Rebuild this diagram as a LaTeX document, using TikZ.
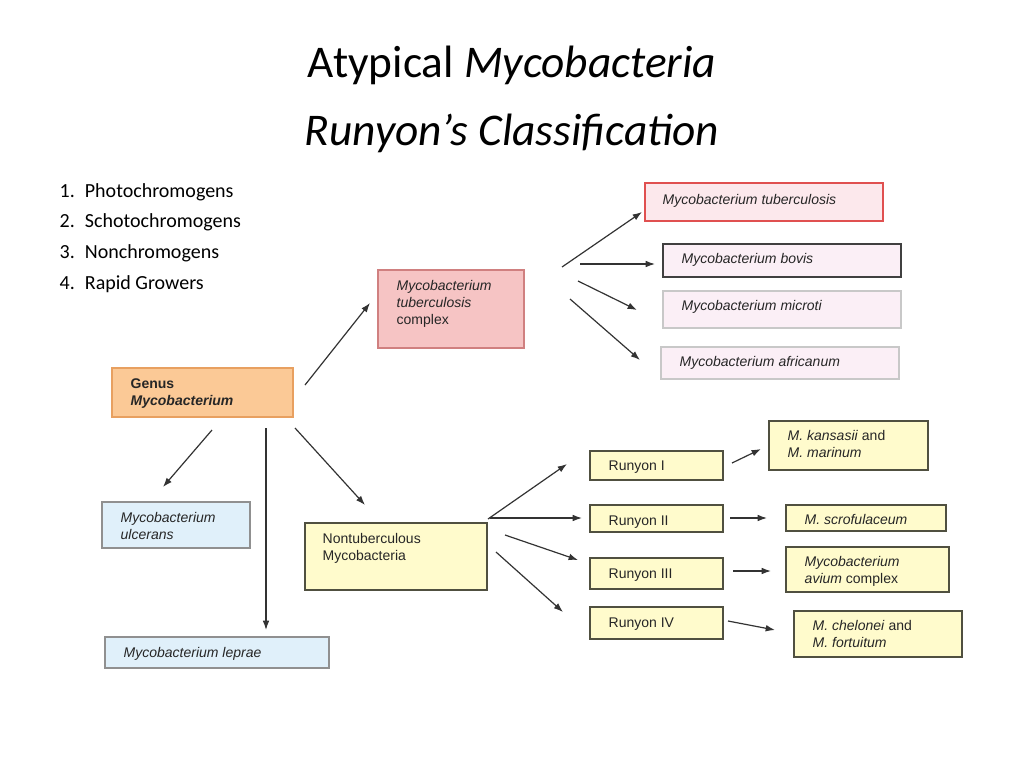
\documentclass[tikz,border=0pt]{standalone}
\usepackage{fontspec}
\setmainfont{Carlito}
\newfontfamily\arl{Liberation Sans}
\usetikzlibrary{arrows.meta}
\definecolor{orgF}{HTML}{FBC996}\definecolor{orgD}{HTML}{E8A060}
\definecolor{pnkF}{HTML}{F6C4C4}\definecolor{pnkD}{HTML}{D08080}
\definecolor{tbF}{HTML}{FCE8EC}\definecolor{tbD}{HTML}{E05050}
\definecolor{ltF}{HTML}{FBEFF6}\definecolor{ltD}{HTML}{C8C8C8}
\definecolor{bluF}{HTML}{E0F0FA}\definecolor{bluD}{HTML}{909090}
\definecolor{yelF}{HTML}{FFFBCC}\definecolor{yelD}{HTML}{505040}
\begin{document}
\begin{tikzpicture}[x=0.75pt,y=-0.75pt,
  box/.style={draw,line width=1pt,inner sep=0pt},
  lbl/.style={anchor=north west,font=\arl\fontsize{10.5}{12.5}\selectfont,align=left,text=black!85},
  arr/.style={-{Latex[length=7pt,width=5pt]},line width=0.9pt,black!80},
  list/.style={anchor=west,font=\fontsize{15}{18}\selectfont}]
\useasboundingbox (0,0) rectangle (1024,768);
\node[font=\fontsize{34}{40}\selectfont] (t1) at (512,65) {Atypical \textit{Mycobacteria}};
\node[font=\fontsize{34}{40}\selectfont] (t2) at (512,133) {\textit{Runyon’s Classification}};
\node[list] (l1) at (55,192) {1.\enspace Photochromogens};
\node[list] (l2) at (55,222) {2.\enspace Schotochromogens};
\node[list] (l3) at (55,253) {3.\enspace Nonchromogens};
\node[list] (l4) at (55,284) {4.\enspace Rapid Growers};
% boxes
\draw[box,fill=orgF,draw=orgD] (112,368) rectangle (293,417);
\node[lbl] (genus) at (126,374) {\textbf{Genus}\\\textbf{\textit{Mycobacterium}}};
\draw[box,fill=pnkF,draw=pnkD] (378,270) rectangle (524,348);
\node[lbl] (mtc) at (392,276) {\textit{Mycobacterium}\\\textit{tuberculosis}\\complex};
\draw[box,fill=tbF,draw=tbD] (645,183) rectangle (883,221);
\node[lbl] (tb) at (658,190) {\textit{Mycobacterium tuberculosis}};
\draw[box,fill=ltF,draw=black!75] (663,244) rectangle (901,277);
\node[lbl] (bov) at (677,249) {\textit{Mycobacterium bovis}};
\draw[box,fill=ltF,draw=ltD] (663,291) rectangle (901,328);
\node[lbl] (mic) at (677,296) {\textit{Mycobacterium microti}};
\draw[box,fill=ltF,draw=ltD] (661,347) rectangle (899,379);
\node[lbl] (afr) at (675,352) {\textit{Mycobacterium africanum}};
\draw[box,fill=bluF,draw=bluD] (102,502) rectangle (250,548);
\node[lbl] (ulc) at (116,508) {\textit{Mycobacterium}\\\textit{ulcerans}};
\draw[box,fill=bluF,draw=bluD] (105,637) rectangle (329,668);
\node[lbl] (lep) at (119,643) {\textit{Mycobacterium leprae}};
\draw[box,fill=yelF,draw=yelD] (305,523) rectangle (487,590);
\node[lbl] (ntm) at (318,529) {Nontuberculous\\Mycobacteria};
\draw[box,fill=yelF,draw=yelD] (590,451) rectangle (723,480);
\node[lbl] (r1) at (604,456) {Runyon I};
\draw[box,fill=yelF,draw=yelD] (590,505) rectangle (723,532);
\node[lbl] (r2) at (604,511) {Runyon II};
\draw[box,fill=yelF,draw=yelD] (590,558) rectangle (723,589);
\node[lbl] (r3) at (604,564) {Runyon III};
\draw[box,fill=yelF,draw=yelD] (590,607) rectangle (723,639);
\node[lbl] (r4) at (604,613) {Runyon IV};
\draw[box,fill=yelF,draw=yelD] (769,421) rectangle (928,470);
\node[lbl] (kan) at (783,426) {\textit{M. kansasii} and\\\textit{M. marinum}};
\draw[box,fill=yelF,draw=yelD] (786,505) rectangle (946,531);
\node[lbl] (scr) at (800,510) {\textit{M. scrofulaceum}};
\draw[box,fill=yelF,draw=yelD] (786,547) rectangle (949,592);
\node[lbl] (avi) at (800,552) {\textit{Mycobacterium}\\\textit{avium} complex};
\draw[box,fill=yelF,draw=yelD] (794,611) rectangle (962,657);
\node[lbl] (che) at (808,616) {\textit{M. chelonei} and\\\textit{M. fortuitum}};
% arrow endpoints
\foreach \n/\a/\b/\c/\d in {g1/305/385/370/303, g2/212/430/163/487, g3/266/428/266/630, g4/295/428/365/505,
  m1/562/267/642/212, m2/580/264/655/264, m3/578/281/637/310, m4/570/299/640/360,
  n1/488/519/567/464, n2/490/518/582/518, n3/505/535/578/560, n4/496/552/563/612,
  s1/732/463/761/449, s2/730/518/767/518, s3/733/571/771/571, s4/728/621/775/630}{
  \coordinate (\n s) at (\a,\b); \coordinate (\n e) at (\c,\d);
  \draw[arr] (\n s) -- (\n e);}
\end{tikzpicture}
\end{document}
